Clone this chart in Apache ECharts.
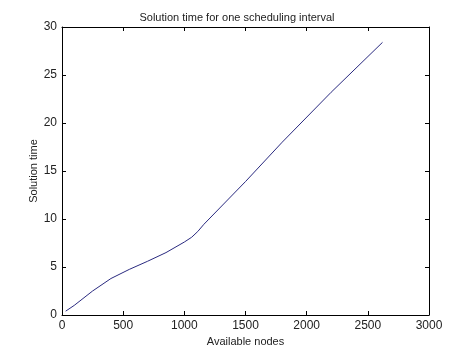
<!DOCTYPE html>
<html>
<head>
<meta charset="utf-8">
<script src="https://cdn.jsdelivr.net/npm/echarts@6/dist/echarts.min.js"></script>
<style>
  html, body { margin: 0; padding: 0; background: #fff; }
  #chart { width: 474px; height: 354px; }
</style>
</head>
<body>
<div id="chart"></div>
<script>
// values
var nodes = [30, 100, 250, 400, 550, 700, 850, 1000, 1060, 1110, 1160, 1500, 1800, 2200, 2620];
var times = [0.4, 1.0, 2.5, 3.8, 4.75, 5.6, 6.5, 7.6, 8.1, 8.7, 9.45, 13.9, 18.0, 23.2, 28.4];

var xMax = 3000, xStep = 500;
var yMax = 30, yStep = 5;

var font = 'Liberation Sans, Arial, sans-serif';

var points = [];
for (var i = 0; i < nodes.length; i++) {
  points.push([nodes[i], times[i]]);
}

var chart = echarts.init(document.getElementById('chart'));

function boxAxis(pos, max, step, showLabel) {
  return {
    type: 'value',
    position: pos,
    min: 0,
    max: max,
    interval: step,
    axisLine: { show: true, onZero: false, lineStyle: { color: '#000', width: 1 } },
    axisTick: { show: true, inside: true, length: 4, lineStyle: { color: '#000' } },
    splitLine: { show: false },
    axisLabel: {
      show: showLabel, color: '#222', fontFamily: font, fontSize: 12, margin: 5,
      formatter: function (v) { return String(v); }
    }
  };
}

var xBottom = boxAxis('bottom', xMax, xStep, true);
xBottom.name = 'Available nodes';
xBottom.nameLocation = 'middle';
xBottom.nameGap = 21;
xBottom.nameMoveOverlap = false;
xBottom.nameTextStyle = { color: '#222', fontFamily: font, fontSize: 11 };

var yLeft = boxAxis('left', yMax, yStep, true);
yLeft.name = 'Solution time';
yLeft.nameLocation = 'middle';
yLeft.nameGap = 23;
yLeft.nameMoveOverlap = false;
yLeft.nameTextStyle = { color: '#222', fontFamily: font, fontSize: 11 };

var option = {
  backgroundColor: '#fff',
  animation: false,
  title: {
    text: 'Solution time for one scheduling interval',
    left: 'center',
    top: 7,
    textStyle: { color: '#222', fontFamily: font, fontSize: 11, fontWeight: 'normal' }
  },
  grid: { left: 62, right: 45, top: 27, bottom: 39 },
  xAxis: [xBottom, boxAxis('top', xMax, xStep, false)],
  yAxis: [yLeft, boxAxis('right', yMax, yStep, false)],
  series: [{
    type: 'line',
    xAxisIndex: 0,
    yAxisIndex: 0,
    data: points,
    showSymbol: false,
    smooth: false,
    lineStyle: { color: '#2a2a80', width: 1 }
  }]
};

chart.setOption(option);
</script>
</body>
</html>
